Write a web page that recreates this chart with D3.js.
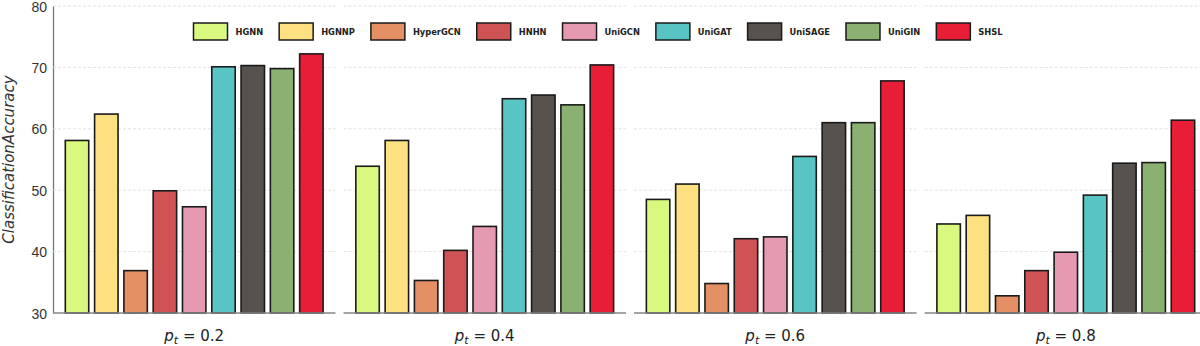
<!DOCTYPE html>
<html>
<head>
<meta charset="utf-8">
<script src="https://cdn.jsdelivr.net/npm/d3@7"></script>
<style>
  body { margin: 0; background: #fff; }
  svg { font-family: "DejaVu Sans", sans-serif; }
</style>
</head>
<body>
<div id="chart"></div>
<script>
const methods = ["HGNN", "HGNNP", "HyperGCN", "HNHN", "UniGCN", "UniGAT", "UniSAGE", "UniGIN", "SHSL"]
const colors = ["#d9f87f", "#fde07f", "#e58f64", "#cf5354", "#e69ab1", "#58c4c4", "#58524f", "#8bb172", "#e81e37"]
const ratios = ["0.2", "0.4", "0.6", "0.8"]

// accuracy per ratio, same order as methods
const acc02 = [58.1, 62.4, 36.9, 49.9, 47.3, 70.1, 70.3, 69.8, 72.2]
const acc04 = [53.9, 58.1, 35.3, 40.2, 44.1, 64.9, 65.5, 63.9, 70.4]
const acc06 = [48.5, 51.0, 34.8, 42.1, 42.4, 55.5, 61.0, 61.0, 67.8]
const acc08 = [44.5, 45.9, 32.8, 36.9, 39.9, 49.2, 54.4, 54.5, 61.4]
const panels = [acc02, acc04, acc06, acc08]

const yTicks = [30, 40, 50, 60, 70, 80]

const width = 1200
const height = 346

const svg = d3.select("#chart")
    .append("svg")
    .attr("width", width)
    .attr("height", height)

const y = d3.scaleLinear()
    .domain([30, 80])
    .range([313, 6])

const panelX = d3.scaleBand()
    .domain(ratios)
    .range([53, 1207])
    .paddingInner(0.028)
    .paddingOuter(0)

const color = d3.scaleOrdinal()
    .domain(methods)
    .range(colors)

// y axis only on the first panel
const yAxis = svg.append("g")
    .attr("transform", `translate(${panelX(ratios[0])},0)`)
    .call(d3.axisLeft(y).tickValues(yTicks).tickSize(0).tickPadding(6))
yAxis.select(".domain").attr("stroke", "#777").attr("stroke-width", 1.3)
yAxis.selectAll("text")
    .attr("font-size", 14)
    .attr("fill", "#333")
    .attr("dy", "0.36em")

svg.append("text")
    .attr("transform", `translate(14,${y(55)}) rotate(-90)`)
    .attr("text-anchor", "middle")
    .attr("font-size", 15)
    .attr("font-style", "italic")
    .attr("fill", "#333")
    .text("ClassificationAccuracy")

panels.forEach((vals, pi) => {
    const x0 = panelX(ratios[pi])
    const pw = panelX.bandwidth()

    const g = svg.append("g")
        .attr("transform", `translate(${x0},0)`)

    const x = d3.scaleBand()
        .domain(methods)
        .range([0, pw])
        .paddingInner(0.2)
        .paddingOuter(0.42)

    g.append("g")
        .selectAll("line")
        .data(yTicks)
        .join("line")
        .attr("x1", 0)
        .attr("x2", pw)
        .attr("y1", d => y(d))
        .attr("y2", d => y(d))
        .attr("stroke", "#dcdcdc")
        .attr("stroke-width", 0.8)
        .attr("stroke-dasharray", "3,2")

    g.append("g")
        .selectAll("rect")
        .data(vals)
        .join("rect")
        .attr("x", (d, i) => x(methods[i]))
        .attr("width", x.bandwidth())
        .attr("y", d => y(d))
        .attr("height", d => y(30) - y(d))
        .attr("fill", (d, i) => color(methods[i]))
        .attr("stroke", "#1a1a1a")
        .attr("stroke-width", 1.6)

    g.append("line")
        .attr("x1", 0)
        .attr("x2", pw)
        .attr("y1", y(30))
        .attr("y2", y(30))
        .attr("stroke", "#888")
        .attr("stroke-width", 1.5)

    const lab = g.append("text")
        .attr("x", pw / 2)
        .attr("y", 341)
        .attr("text-anchor", "middle")
        .attr("font-size", 15)
        .attr("fill", "#222")
    lab.append("tspan").attr("font-style", "italic").text("p")
    lab.append("tspan").attr("font-style", "italic").attr("font-size", 11).attr("dy", 3).text("t")
    lab.append("tspan").attr("dy", -3).text(" = " + ratios[pi])
})

// legend, laid out left to right and centred
const legend = svg.append("g")
const items = legend.selectAll("g")
    .data(methods)
    .join("g")
items.append("rect")
    .attr("width", 34)
    .attr("height", 17)
    .attr("fill", d => color(d))
    .attr("stroke", "#1a1a1a")
    .attr("stroke-width", 1.5)
items.append("text")
    .attr("x", 42)
    .attr("y", 12.3)
    .attr("font-size", 8.3)
    .attr("font-weight", "bold")
    .attr("fill", "#222")
    .text(d => d)

let cursor = 0
items.each(function () {
    const tw = d3.select(this).select("text").node().getComputedTextLength()
    d3.select(this).attr("transform", `translate(${cursor},0)`)
    cursor += 42 + tw + 16
})
const total = cursor - 16
legend.attr("transform", `translate(${598 - total / 2},23)`)
</script>
</body>
</html>
